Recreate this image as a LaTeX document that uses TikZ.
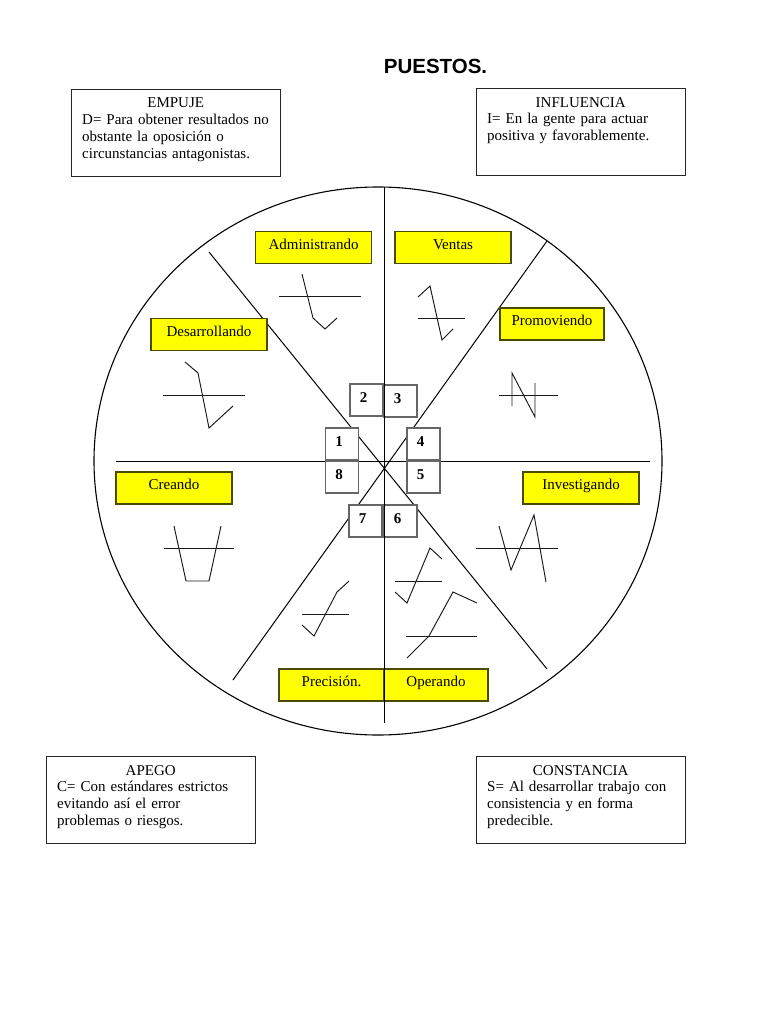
\documentclass[tikz,border=0pt]{standalone}
\usepackage{fontspec}
\setmainfont{Liberation Serif}
\newfontfamily\titlefont{Liberation Sans}
\usepackage{tikz}
\usetikzlibrary{shapes.geometric, positioning}
\definecolor{labelfill}{HTML}{FFFF00}
\definecolor{labelline}{HTML}{4A4A00}
\definecolor{numline}{HTML}{666666}

\begin{document}
\begin{tikzpicture}[
    x=1pt, y=-1pt,
    infobox/.style={draw=black!85, fill=white, line width=1pt, minimum width=209pt, minimum height=87pt, inner sep=0pt},
    infotext/.style={anchor=north west, text width=187pt, align=left, inner sep=0pt, font=\fontsize{15}{16.8}\selectfont},
    puesto/.style={draw=labelline, fill=labelfill, line width=1.1pt, minimum width=116pt, minimum height=32pt, inner sep=0pt, text height=9pt, text depth=6pt, font=\fontsize{15}{17}\selectfont},
    numbox/.style={draw=numline, fill=white, line width=1.1pt, minimum width=33pt, minimum height=32pt, inner sep=0pt, text depth=4pt, font=\fontsize{15}{17}\selectfont\bfseries, execute at begin node=\kern-6pt},
    spoke/.style={line width=1pt},
    trace/.style={line width=0.95pt, black!90},
]
\useasboundingbox (0,0) rectangle (768,1024);

% Title
\node[font=\titlefont\fontsize{20.5}{24}\selectfont\bfseries] (titulo) at (435.5,66) {PUESTOS.};

% Info boxes
\node[infobox] (empuje) at (175.5,133.5) {};
\node[infobox] (influencia) at (580.5,132.5) {};
\node[infobox] (apego) at (150.5,800) {};
\node[infobox] (constancia) at (580.5,800) {};
\node[infotext] (empujetext) at (82,97) {\makebox[\linewidth]{EMPUJE}\\[1pt]D= Para obtener resultados no\\obstante la oposición o\\circunstancias antagonistas.};
\node[infotext] (influenciatext) at (487,97) {\makebox[\linewidth]{INFLUENCIA}\\[0pt]I= En la gente para actuar\\positiva y favorablemente.};
\node[infotext] (apegotext) at (57,765) {\makebox[\linewidth]{APEGO}\\[0pt]C= Con estándares estrictos\\evitando así el error\\problemas o riesgos.};
\node[infotext] (constanciatext) at (487,765) {\makebox[\linewidth]{CONSTANCIA}\\[0pt]S= Al desarrollar trabajo con\\consistencia y en forma\\predecible.};

% Wheel
\node[draw, line width=1.1pt, ellipse, minimum width=568pt, minimum height=548pt, inner sep=0pt] (rueda) at (378,461) {};
\coordinate (vtop) at (384,187);
\coordinate (vbot) at (384,723);
\coordinate (hleft) at (116,461);
\coordinate (hright) at (650,461);
\coordinate (dnw) at (209,252);
\coordinate (dse) at (547,669);
\coordinate (dne) at (547,241);
\coordinate (dsw) at (233,680);
\draw[spoke] (hleft) -- (hright);
\draw[spoke] (dnw) -- (dse);
\draw[spoke] (dne) -- (dsw);

% Graphs
\draw[trace] (279,296) -- (361,296);
\draw[trace] (302,274) -- (313,318) -- (325,329) -- (337,318);
\draw[trace] (163,395) -- (245,395);
\draw[trace] (185,362) -- (198,373) -- (209,428) -- (233,406);
\draw[trace] (418,318) -- (465,318);
\draw[trace] (418,297) -- (430,286) -- (442,340) -- (453,329);
\draw[trace] (499,395) -- (558,395);
\draw[trace] (512,406) -- (512,373) -- (535,417) -- (535,383);
\draw[trace] (164,548) -- (234,548);
\draw[trace] (174,526) -- (186,581) -- (209,581) -- (221,526);
\draw[trace] (302,614) -- (349,614);
\draw[trace] (302,625) -- (314,636) -- (337,592) -- (349,581);
\draw[trace] (476,548) -- (558,548);
\draw[trace] (499,526) -- (511,570) -- (534,515) -- (546,582);
\draw[trace] (395,581) -- (442,581);
\draw[trace] (395,592) -- (407,603) -- (430,548) -- (442,559);
\draw[trace] (406,636) -- (477,636);
\draw[trace] (407,658) -- (429,636) -- (453,592) -- (477,603);

% Labels
\node[puesto] (administrando) at (313.5,247.5) {Administrando};
\node[puesto] (ventas) at (453,247.5) {Ventas};
\node[puesto] (desarrollando) at (209,334.5) {Desarrollando};
\node[puesto, minimum width=104pt] (promoviendo) at (552,324) {Promoviendo};
\node[puesto] (creando) at (174,488) {Creando};
\node[puesto] (investigando) at (581,488) {Investigando};
\node[puesto, minimum width=105pt] (precision) at (331.5,685) {Precisión.};
\node[puesto, minimum width=104pt] (operando) at (436,685) {Operando};

% Numbers
\node[numbox] (n2) at (366.5,400) {2};
\node[numbox] (n3) at (400.5,401) {3};
\node[numbox] (n1) at (342,444) {1};
\node[numbox] (n4) at (423.5,444) {4};
\node[numbox] (n8) at (342,477) {8};
\node[numbox] (n5) at (423.5,477) {5};
\node[numbox] (n7) at (365.5,521) {7};
\node[numbox] (n6) at (400.5,521) {6};

\draw[spoke] (vtop) -- (vbot);

\end{tikzpicture}
\end{document}
